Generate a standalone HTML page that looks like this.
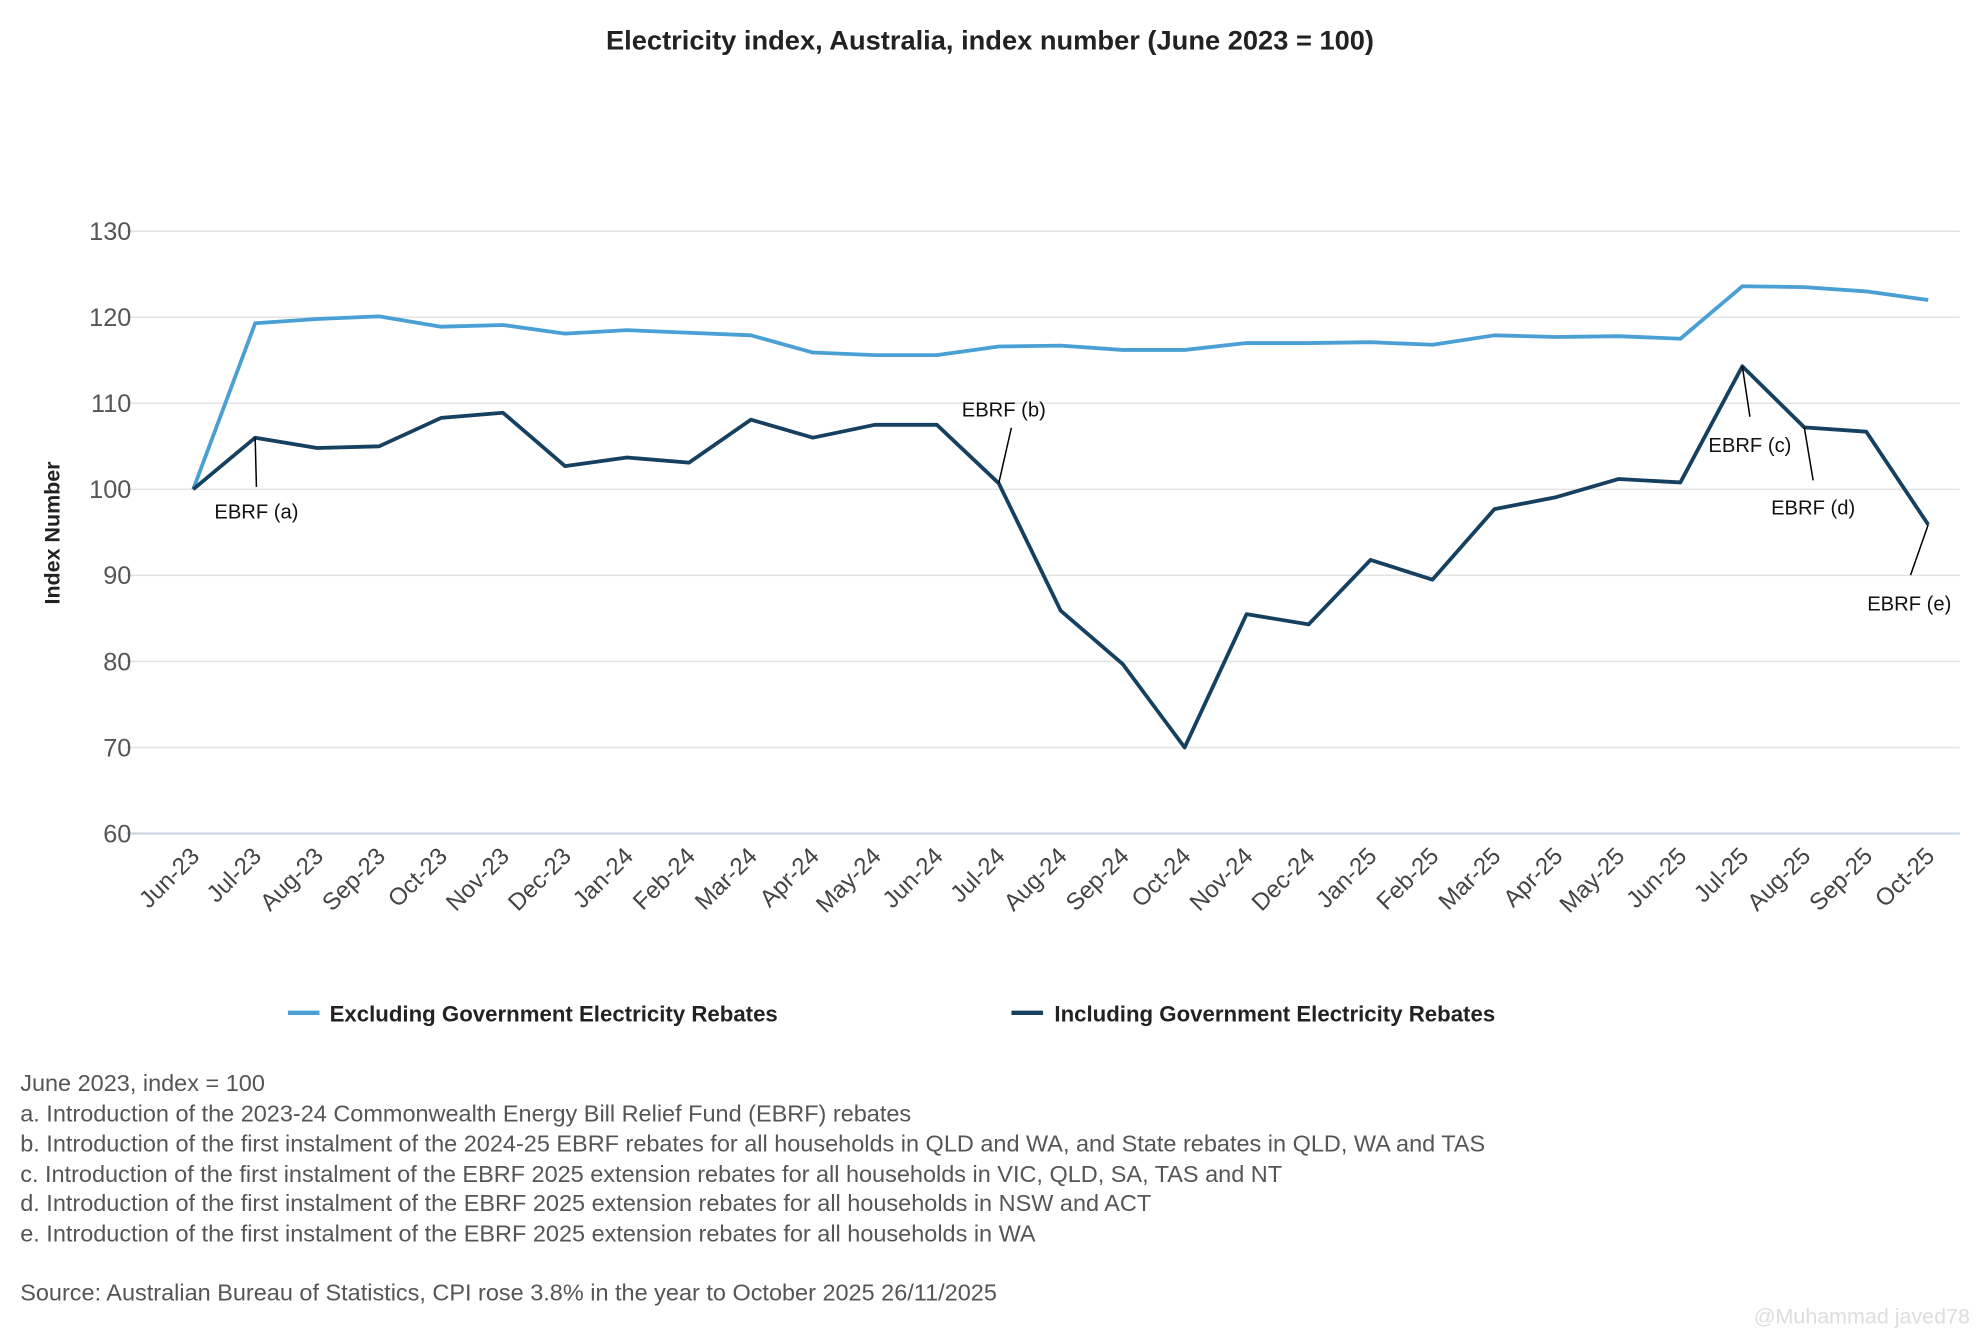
<!DOCTYPE html>
<html><head><meta charset="utf-8"><style>
html,body{margin:0;padding:0;background:#fff;}
svg{display:block;font-family:"Liberation Sans",Arial,sans-serif;}
</style></head><body>
<svg id="chart" width="1980" height="1340" viewBox="0 0 1568 1061" xmlns="http://www.w3.org/2000/svg">
<rect width="1568" height="1061" fill="#fff"/>
<text x="784" y="39" text-anchor="middle" font-size="21.6" font-weight="bold" fill="#222">Electricity index, Australia, index number (June 2023 = 100)</text>
<g id="grid"></g><g id="yticks"></g><g id="xticks"></g><g id="series"></g><g id="ann"></g>
<text transform="translate(47,422) rotate(-90)" text-anchor="middle" font-size="17" font-weight="bold" fill="#222">Index Number</text>
<g>
<line x1="228" y1="802" x2="253" y2="802" stroke="#4a9fd4" stroke-width="3.5"/>
<text x="261" y="809" font-size="17.6" font-weight="bold" fill="#222">Excluding Government Electricity Rebates</text>
<line x1="801" y1="802" x2="826" y2="802" stroke="#16405f" stroke-width="3.5"/>
<text x="835" y="809" font-size="17.6" font-weight="bold" fill="#222">Including Government Electricity Rebates</text>
</g>
<g font-size="18.6" fill="#555">
<text x="16" y="864">June 2023, index = 100</text>
<text x="16" y="888">a. Introduction of the 2023-24 Commonwealth Energy Bill Relief Fund (EBRF) rebates</text>
<text x="16" y="912">b. Introduction of the first instalment of the 2024-25 EBRF rebates for all households in QLD and WA, and State rebates in QLD, WA and TAS</text>
<text x="16" y="936">c. Introduction of the first instalment of the EBRF 2025 extension rebates for all households in VIC, QLD, SA, TAS and NT</text>
<text x="16" y="959">d. Introduction of the first instalment of the EBRF 2025 extension rebates for all households in NSW and ACT</text>
<text x="16" y="983">e. Introduction of the first instalment of the EBRF 2025 extension rebates for all households in WA</text>
<text x="16" y="1030">Source: Australian Bureau of Statistics, CPI rose 3.8% in the year to October 2025 26/11/2025</text>
</g>
<text x="1560" y="1048" text-anchor="end" font-size="17" fill="#ddd">@Muhammad javed78</text>
</svg>
<script>
const categories=["Jun-23","Jul-23","Aug-23","Sep-23","Oct-23","Nov-23","Dec-23","Jan-24","Feb-24","Mar-24","Apr-24","May-24","Jun-24","Jul-24","Aug-24","Sep-24","Oct-24","Nov-24","Dec-24","Jan-25","Feb-25","Mar-25","Apr-25","May-25","Jun-25","Jul-25","Aug-25","Sep-25","Oct-25"];
const excludingValues=[100,119.3,119.8,120.1,118.9,119.1,118.1,118.5,118.2,117.9,115.9,115.6,115.6,116.6,116.7,116.2,116.2,117.0,117.0,117.1,116.8,117.9,117.7,117.8,117.5,123.6,123.5,123.0,122.0];
const includingValues=[100,106.0,104.8,105.0,108.3,108.9,102.7,103.7,103.1,108.1,106.0,107.5,107.5,100.7,85.9,79.7,70.0,85.5,84.3,91.8,89.5,97.7,99.1,101.2,100.8,114.3,107.2,106.7,95.9];
const yTicks=[60,70,80,90,100,110,120,130];
const annotations=[["EBRF (a)",1],["EBRF (b)",13],["EBRF (c)",25],["EBRF (d)",26],["EBRF (e)",28]];
const NS="http://www.w3.org/2000/svg";
const X0=153,X1=1527,Y60=660,Y130=183,PL=100,PR=1552;
function xs(i){return X0+(X1-X0)*i/(categories.length-1);}
function ys(v){return Y60-(v-60)*(Y60-Y130)/70;}
function mk(tag,attrs,parent,txt){const e=document.createElementNS(NS,tag);for(const k in attrs)e.setAttribute(k,attrs[k]);if(txt!==undefined)e.textContent=txt;parent.appendChild(e);return e;}
const g=document.getElementById('grid'),yt=document.getElementById('yticks'),xt=document.getElementById('xticks'),se=document.getElementById('series'),an=document.getElementById('ann');
yTicks.forEach(t=>{
 const l=mk('line',{x1:PL,x2:PR,y1:ys(t),y2:ys(t),stroke:t===60?'#c5d3e3':'#e3e3e3','stroke-width':t===60?1.6:1.2},g);
 
 
 const tx=mk('text',{x:104,y:ys(t)+7,'text-anchor':'end','font-size':20,fill:'#555'},yt,String(t));
 
 
});
categories.forEach((c,i)=>{
 const tx=mk('text',{transform:`translate(${xs(i)+6},${679}) rotate(-45)`,'text-anchor':'end','font-size':19,fill:'#444'},xt,c);
 
 
});
function line(vals,color,name){
 const p=mk('polyline',{points:vals.map((v,i)=>xs(i)+','+ys(v)).join(' '),fill:'none',stroke:color,'stroke-width':3,'stroke-linejoin':'round'},se);
 
 
}
line(excludingValues,'#4a9fd4','line-excluding-rebates');
line(includingValues,'#16405f','line-including-rebates');
const off={"EBRF (a)":[1,39,1,58,0],"EBRF (b)":[10,-44,4,-59,0],"EBRF (c)":[6,40,6,62,0],"EBRF (d)":[7,42,7,63,0],"EBRF (e)":[-14,40,-15,62,0]};
annotations.forEach(([lab,i])=>{
 const x=xs(i),y=ys(includingValues[i]),o=off[lab];
 const l=mk('line',{x1:x,y1:y,x2:x+o[0],y2:y+o[1],stroke:'#000','stroke-width':1.2},an);
 
 
 const t=mk('text',{x:x+o[2],y:y+o[3]+6,'text-anchor':'middle','font-size':16,fill:'#111'},an,lab);
 
 
});
</script>
</body></html>
